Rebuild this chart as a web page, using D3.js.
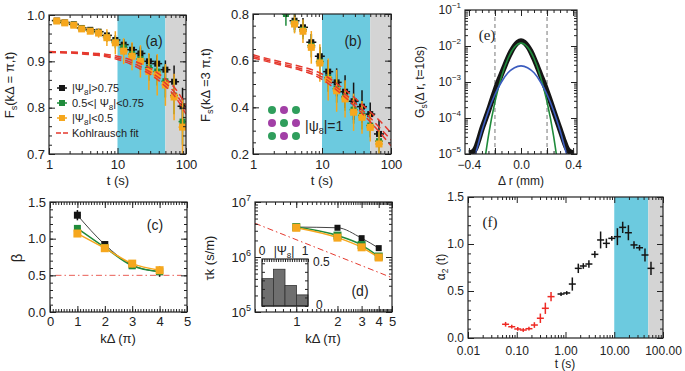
<!DOCTYPE html>
<html>
<head>
<meta charset="utf-8">
<script src="https://cdn.jsdelivr.net/npm/d3@7"></script>
<style>
body { margin: 0; background: #fff; }
text { font-family: "Liberation Sans", Arial, sans-serif; fill: #222; }
</style>
</head>
<body>
<svg id="fig" width="685" height="371"></svg>
<script>
// (a) Fs(k=pi, t) for three |psi6| groups
const tA = [1.3, 1.7, 2.3, 3.0, 4.0, 5.3, 7.0, 9.3, 12.3, 16.3, 21.6, 28.7, 38, 50, 67, 89];
const fsA_hi  = [0.988, 0.984, 0.980, 0.972, 0.968, 0.964, 0.956, 0.946, 0.936, 0.925, 0.917, 0.900, 0.895, 0.882, 0.856, 0.803];
const fsA_mid = [0.987, 0.983, 0.979, 0.971, 0.966, 0.962, 0.952, 0.942, 0.930, 0.916, 0.905, 0.886, 0.878, 0.857, 0.826, 0.770];
const fsA_lo  = [0.987, 0.983, 0.978, 0.970, 0.965, 0.961, 0.951, 0.940, 0.922, 0.911, 0.900, 0.878, 0.871, 0.849, 0.823, 0.758];
const errA_hi  = [0.003, 0.003, 0.003, 0.004, 0.004, 0.005, 0.008, 0.010, 0.012, 0.014, 0.015, 0.016, 0.018, 0.020, 0.035, 0.040];
const errA_mid = [0.003, 0.003, 0.003, 0.004, 0.005, 0.006, 0.010, 0.014, 0.016, 0.020, 0.024, 0.028, 0.030, 0.035, 0.040, 0.050];
const errA_lo  = [0.004, 0.004, 0.004, 0.005, 0.006, 0.010, 0.018, 0.025, 0.028, 0.030, 0.035, 0.040, 0.045, 0.045, 0.050, 0.060];
const tFit = [1, 2, 3, 5, 7, 10, 15, 20, 30, 50, 70, 100];
const fitA1 = [0.921, 0.920, 0.919, 0.917, 0.915, 0.911, 0.904, 0.897, 0.885, 0.862, 0.841, 0.805];
const fitA2 = [0.920, 0.919, 0.918, 0.915, 0.912, 0.907, 0.899, 0.891, 0.877, 0.853, 0.831, 0.795];
const fitA3 = [0.919, 0.918, 0.916, 0.913, 0.910, 0.904, 0.895, 0.886, 0.872, 0.846, 0.823, 0.786];

// (b) Fs(k=3pi, t)
const tB = [3.0, 4.0, 5.3, 7.0, 9.3, 12.3, 16.3, 21.6, 28.7, 38, 50, 67];
const fsB_hi  = [null, 0.771, 0.743, 0.679, 0.619, 0.553, 0.507, 0.467, 0.426, 0.403, 0.371, 0.286];
const fsB_mid = [0.800, 0.762, 0.732, 0.664, 0.596, 0.527, 0.480, 0.445, 0.390, 0.365, 0.322, 0.255];
const fsB_lo  = [null, 0.757, 0.726, 0.657, 0.590, 0.519, 0.471, 0.436, 0.379, 0.357, 0.314, 0.243];
const errB_hi  = [0, 0.04, 0.04, 0.035, 0.04, 0.05, 0.06, 0.07, 0.08, 0.07, 0.05, 0.06];
const errB_mid = [0.05, 0.04, 0.04, 0.05, 0.06, 0.06, 0.06, 0.06, 0.06, 0.06, 0.05, 0.05];
const errB_lo  = [0, 0.04, 0.05, 0.07, 0.08, 0.09, 0.09, 0.08, 0.08, 0.07, 0.06, 0.06];
const fitB1 = [0.625, 0.602, 0.590, 0.574, 0.562, 0.543, 0.510, 0.482, 0.440, 0.380, 0.340, 0.290];
const fitB2 = [0.618, 0.595, 0.582, 0.565, 0.552, 0.530, 0.495, 0.465, 0.420, 0.355, 0.310, 0.260];
const fitB3 = [0.612, 0.589, 0.576, 0.558, 0.544, 0.520, 0.483, 0.452, 0.405, 0.338, 0.290, 0.235];
const latticeColor = ["g", "p", "g", "p", "g", "p", "g", "p", "g"];

// (e) van Hove function
const drE = [-0.40, -0.375, -0.35, -0.325, -0.30, -0.275, -0.25, -0.225, -0.20, -0.175, -0.15, -0.125, -0.10, -0.075, -0.05, -0.025, 0,
             0.025, 0.05, 0.075, 0.10, 0.125, 0.15, 0.175, 0.20, 0.225, 0.25, 0.275, 0.30, 0.325, 0.35, 0.375, 0.40];
const gsE = [1.07e-5, 1.12e-5, 1.4e-5, 2.5e-5, 5.0e-5, 8.9e-5, 1.6e-4, 3.0e-4, 5.6e-4, 1.0e-3, 1.66e-3, 2.8e-3, 4.6e-3, 7.1e-3, 1.0e-2, 1.26e-2, 1.38e-2,
             1.26e-2, 1.0e-2, 7.1e-3, 4.5e-3, 2.7e-3, 1.6e-3, 9.5e-4, 5.4e-4, 3.0e-4, 1.6e-4, 8.7e-5, 4.8e-5, 2.6e-5, 1.5e-5, 1.15e-5, 1.07e-5];
const drGauss = [-0.28, -0.25, -0.20, -0.15, -0.10, -0.05, 0, 0.05, 0.10, 0.15, 0.20, 0.25, 0.28];
const gsGauss = [6e-6, 3.2e-5, 2.8e-4, 1.4e-3, 4.5e-3, 9.3e-3, 1.2e-2, 9.3e-3, 4.5e-3, 1.4e-3, 2.8e-4, 3.2e-5, 6e-6];
const drWide = [-0.37, -0.35, -0.30, -0.25, -0.20, -0.15, -0.10, -0.05, 0, 0.05, 0.10, 0.15, 0.20, 0.25, 0.30, 0.35, 0.37];
const gsWide = [6e-6, 1.0e-5, 4.5e-5, 1.6e-4, 4.5e-4, 1.0e-3, 1.8e-3, 2.5e-3, 2.8e-3, 2.5e-3, 1.8e-3, 1.0e-3, 4.5e-4, 1.6e-4, 4.5e-5, 1.0e-5, 6e-6];
const drCut = [-0.2, 0.2];

// (c) stretching exponent beta
const kC = [1, 2, 3, 4];
const betaHi  = [1.32, 0.92, 0.64, 0.55];
const betaMid = [1.14, 0.88, 0.63, 0.55];
const betaLo  = [1.07, 0.87, 0.66, 0.57];
const errBetaHi  = [0.07, 0.04, 0.04, 0.07];
const errBetaMid = [0.03, 0.03, 0.03, 0.04];
const errBetaLo  = [0.04, 0.04, 0.05, 0.05];
const betaRef = 0.5;

// (d) tau*k
const tauHi  = [3.5e6, 3.4e6, 2.2e6, 1.45e6];
const tauMid = [3.5e6, 2.45e6, 1.65e6, 1.02e6];
const tauLo  = [3.4e6, 2.25e6, 1.5e6, 0.98e6];
const kGuide = [0.5, 5];
const tauGuide = [4.1e6, 4.2e5];
const psiBins = [0, 0.25, 0.5, 0.75];
const psiFrac = [0.32, 0.43, 0.24, 0.13];

// (f) non-Gaussian parameter
const tF_red = [0.059, 0.079, 0.105, 0.136, 0.178, 0.23, 0.305, 0.386, 0.505];
const a2_red = [0.146, 0.12, 0.096, 0.085, 0.099, 0.138, 0.21, 0.316, 0.44];
const err_red = [0.025, 0.02, 0.02, 0.02, 0.02, 0.03, 0.05, 0.06, 0.05];
const tF_blk = [0.81, 1.06, 1.38, 1.83, 2.32, 3.02, 4.0, 5.25, 6.9, 8.9, 11.6, 14.9, 19.5, 25.4, 33, 42.7, 56.7];
const a2_blk = [0.468, 0.479, 0.574, 0.741, 0.766, 0.787, 0.89, 1.043, 1.007, 1.06, 1.078, 1.177, 1.12, 0.99, 0.96, 0.883, 0.741];
const err_blk = [0.02, 0.02, 0.07, 0.05, 0.03, 0.04, 0.035, 0.09, 0.05, 0.025, 0.09, 0.06, 0.08, 0.04, 0.03, 0.07, 0.07];

const tCage = [10, 50]; // shaded windows

const BLACK = "#151515", GREEN = "#1f8b3b", ORANGE = "#f6a71d", RED = "#e5392e",
      CYAN = "#6ccadf", GREY = "#d4d4d4", BLUE = "#3b5cbf", PURPLE = "#a23fa6";

const svg = d3.select("#fig");

function panel(x0, y0, w, h, id) {
    const g = svg.append("g").attr("transform", "translate(" + x0 + "," + y0 + ")");
    g.append("clipPath").attr("id", id).append("rect").attr("width", w).attr("height", h);
    return g;
}

function frame(g, x, y, w, h, o) {
    const add = (axis, tr) => g.append("g").attr("transform", tr)
        .call(axis).call(s => s.select(".domain").remove())
        .attr("font-family", null).attr("font-size", o.fs || 13)
        .style("color", "#222");
    add(d3.axisBottom(x).tickValues(o.xMajor).tickSize(-6).tickPadding(o.xPad || 6).tickFormat(o.xFmt || ""), "translate(0," + h + ")");
    add(d3.axisBottom(x).tickValues(o.xMinor).tickSize(-3).tickFormat(""), "translate(0," + h + ")");
    add(d3.axisTop(x).tickValues(o.xMajor).tickSize(-6).tickFormat(""), "translate(0,0)");
    add(d3.axisTop(x).tickValues(o.xMinor).tickSize(-3).tickFormat(""), "translate(0,0)");
    add(d3.axisLeft(y).tickValues(o.yMajor).tickSize(-6).tickPadding(o.yPad || 4).tickFormat(o.yFmt || ""), "translate(0,0)");
    add(d3.axisLeft(y).tickValues(o.yMinor).tickSize(-3).tickFormat(""), "translate(0,0)");
    add(d3.axisRight(y).tickValues(o.yMajor).tickSize(-6).tickFormat(""), "translate(" + w + ",0)");
    add(d3.axisRight(y).tickValues(o.yMinor).tickSize(-3).tickFormat(""), "translate(" + w + ",0)");
    g.append("rect").attr("width", w).attr("height", h)
        .attr("fill", "none").attr("stroke", "#222").attr("stroke-width", 1.2);
}

function logMinor(lo, hi) {
    const out = [];
    for (let e = lo; e < hi; e++) for (let k = 2; k <= 9; k++) out.push(k * Math.pow(10, e));
    return out;
}

function points(g, id, x, y, xs, ys, es, color, size, arm) {
    const pts = xs.map((t, i) => ({t: t, v: ys[i], e: es[i]})).filter(d => d.v != null);
    const grp = g.append("g").attr("clip-path", "url(#" + id + ")");
    grp.selectAll(".ev").data(pts).join("line").attr("class", "ev")
        .attr("x1", d => x(d.t)).attr("x2", d => x(d.t))
        .attr("y1", d => y(d.v - d.e)).attr("y2", d => y(d.v + d.e))
        .attr("stroke", color).attr("stroke-width", 1.5);
    grp.selectAll(".eh").data(pts).join("line").attr("class", "eh")
        .attr("x1", d => x(d.t) - arm).attr("x2", d => x(d.t) + arm)
        .attr("y1", d => y(d.v)).attr("y2", d => y(d.v))
        .attr("stroke", color).attr("stroke-width", 1.5);
    if (size > 0) {
        grp.selectAll(".pt").data(pts).join("rect").attr("class", "pt")
            .attr("x", d => x(d.t) - size / 2).attr("y", d => y(d.v) - size / 2)
            .attr("width", size).attr("height", size).attr("fill", color);
    }
}

function curve(g, id, x, y, xs, ys, color, width, dash) {
    const line = d3.line().x(d => x(d[0])).y(d => y(d[1])).curve(d3.curveMonotoneX);
    g.append("path").attr("clip-path", "url(#" + id + ")")
        .attr("d", line(xs.map((t, i) => [t, ys[i]])))
        .attr("fill", "none").attr("stroke", color).attr("stroke-width", width)
        .attr("stroke-dasharray", dash || null);
}

function bands(g, x, h, w) {
    g.append("rect").attr("x", x(tCage[0])).attr("width", x(tCage[1]) - x(tCage[0]))
        .attr("height", h).attr("fill", CYAN);
    g.append("rect").attr("x", x(tCage[1])).attr("width", w - x(tCage[1]))
        .attr("height", h).attr("fill", GREY);
}

// rotated y label with a subscript part
function yLabel(x, y, parts, fs, family) {
    const t = svg.append("text").attr("transform", "translate(" + x + "," + y + ") rotate(-90)")
        .attr("text-anchor", "middle").attr("font-size", fs);
    if (family) t.style("font-family", family);
    parts.forEach(p => {
        const s = t.append("tspan").text(p[0]);
        if (p[1] === "sub") s.attr("font-size", fs * 0.7).attr("dy", 3);
        if (p[1] === "back") s.attr("dy", -3);
    });
}

function label(x, y, txt, fs, anchor, family) {
    const t = svg.append("text").attr("x", x).attr("y", y).attr("font-size", fs)
        .attr("text-anchor", anchor || "middle").text(txt);
    if (family) t.style("font-family", family);
    return t;
}

// ---------------- (a) ----------------
{
    const w = 137, h = 139;
    const g = panel(49, 15, w, h, "clipA");
    const x = d3.scaleLog().domain([1, 100]).range([0, w]);
    const y = d3.scaleLinear().domain([0.7, 1.0]).range([h, 0]);
    bands(g, x, h, w);
    points(g, "clipA", x, y, tA, fsA_hi, errA_hi, BLACK, 6, 5);
    points(g, "clipA", x, y, tA, fsA_mid, errA_mid, GREEN, 6, 4);
    points(g, "clipA", x, y, tA, fsA_lo, errA_lo, ORANGE, 7, 4);
    [fitA1, fitA2, fitA3].forEach(f => curve(g, "clipA", x, y, tFit, f, RED, 1.5, "7,4"));
    frame(g, x, y, w, h, {
        xMajor: [1, 10, 100], xMinor: logMinor(0, 2), xFmt: d3.format("d"),
        yMajor: [0.7, 0.8, 0.9, 1.0], yMinor: d3.range(35, 51).map(i => i / 50), yFmt: d3.format(".1f")
    });
    label(154, 46, "(a)", 14);
    // legend
    const leg = [[BLACK, ["|Ψ", "8", "|>0.75"]], [GREEN, ["0.5<| Ψ", "8", "|<0.75"]], [ORANGE, ["|Ψ", "8", "|<0.5"]]];
    leg.forEach((l, i) => {
        const cy = 88 + i * 15;
        svg.append("line").attr("x1", 57).attr("x2", 67).attr("y1", cy).attr("y2", cy).attr("stroke", l[0]).attr("stroke-width", 1.5);
        svg.append("line").attr("x1", 62).attr("x2", 62).attr("y1", cy - 3).attr("y2", cy + 3).attr("stroke", l[0]).attr("stroke-width", 1.5);
        svg.append("rect").attr("x", 59).attr("y", cy - 3).attr("width", 6).attr("height", 6).attr("fill", l[0]);
        const t = label(72, cy + 4, "", 11, "start");
        t.append("tspan").text(l[1][0]);
        t.append("tspan").text(l[1][1]).attr("font-size", 8).attr("dy", 3);
        t.append("tspan").text(l[1][2]).attr("dy", -3);
    });
    svg.append("line").attr("x1", 56).attr("x2", 68).attr("y1", 133).attr("y2", 133)
        .attr("stroke", RED).attr("stroke-width", 1.5).attr("stroke-dasharray", "5,2");
    label(72, 137, "Kohlrausch fit", 11, "start");
    yLabel(14, 85, [["F"], ["s", "sub"], ["(kΔ = π,t)", "back"]], 13);
    label(118, 185, "t  (s)", 13);
}

// ---------------- (b) ----------------
{
    const w = 138, h = 140;
    const g = panel(253, 14, w, h, "clipB");
    const x = d3.scaleLog().domain([1, 100]).range([0, w]);
    const y = d3.scaleLinear().domain([0.2, 0.8]).range([h, 0]);
    bands(g, x, h, w);
    points(g, "clipB", x, y, tB, fsB_hi, errB_hi, BLACK, 6, 5);
    points(g, "clipB", x, y, tB, fsB_mid, errB_mid, GREEN, 6, 4);
    points(g, "clipB", x, y, tB, fsB_lo, errB_lo, ORANGE, 7, 4);
    [fitB1, fitB2, fitB3].forEach(f => curve(g, "clipB", x, y, tFit, f, RED, 1.5, "7,4"));
    // lattice sketch
    const lx = d3.scaleLinear().domain([0, 2]).range([19, 43]);
    const ly = d3.scaleLinear().domain([0, 2]).range([96, 122]);
    g.selectAll(".lat").data(latticeColor).join("circle").attr("class", "lat")
        .attr("cx", (d, i) => lx(i % 3)).attr("cy", (d, i) => ly(Math.floor(i / 3)))
        .attr("r", 4).attr("fill", d => d === "g" ? "#2f9e5c" : PURPLE);
    const t = label(305, 131, "", 14, "start");
    t.append("tspan").text("|ψ");
    t.append("tspan").text("8").attr("font-size", 9).attr("dy", 3);
    t.append("tspan").text("|=1").attr("dy", -3);
    frame(g, x, y, w, h, {
        xMajor: [1, 10, 100], xMinor: logMinor(0, 2), xFmt: d3.format("d"),
        yMajor: [0.2, 0.4, 0.6, 0.8], yMinor: d3.range(4, 17).map(i => i / 20), yFmt: d3.format(".1f")
    });
    label(353, 46, "(b)", 14);
    yLabel(210, 85, [["F"], ["s", "sub"], ["(kΔ =3 π,t)", "back"]], 13);
    label(322, 185, "t  (s)", 13);
}

// ---------------- (e) ----------------
{
    const w = 112, h = 144;
    const g = panel(465, 10, w, h, "clipE");
    const x = d3.scaleLinear().domain([-0.43, 0.43]).range([0, w]);
    const y = d3.scaleLog().domain([1e-5, 1e-1]).range([h, 0]);
    g.selectAll(".cut").data(drCut).join("line").attr("class", "cut")
        .attr("x1", d => x(d)).attr("x2", d => x(d)).attr("y1", 0).attr("y2", h)
        .attr("stroke", "#777").attr("stroke-width", 1).attr("stroke-dasharray", "4,3");
    curve(g, "clipE", x, y, drE, gsE, BLACK, 5.5);
    curve(g, "clipE", x, y, drGauss, gsGauss, GREEN, 1.6);
    curve(g, "clipE", x, y, drWide, gsWide, BLUE, 1.6);
    frame(g, x, y, w, h, {
        fs: 12, xMajor: [-0.4, -0.2, 0, 0.2, 0.4], xMinor: d3.range(-8, 9).map(i => i / 20),
        xFmt: d => Math.abs(d) === 0.2 ? "" : d3.format(".1f")(d).replace("-", "−"),
        yMajor: [1e-5, 1e-4, 1e-3, 1e-2, 1e-1], yMinor: logMinor(-5, -1)
    });
    [1e-1, 1e-2, 1e-3, 1e-4, 1e-5].forEach(v => {
        const t = label(461, 10 + y(v) + 4, "", 12, "end");
        t.append("tspan").text("10");
        t.append("tspan").text("−" + Math.round(-Math.log10(v))).attr("font-size", 8).attr("dy", -6);
    });
    label(487, 40, "(e)", 15, "middle", "'Liberation Serif', serif");
    yLabel(424, 82, [["G"], ["s", "sub"], ["(Δ r, t=10s)", "back"]], 12);
    label(521, 185, "Δ r (mm)", 12);
}

// ---------------- (c) ----------------
{
    const w = 137, h = 110;
    const g = panel(50, 202, w, h, "clipC");
    const x = d3.scaleLinear().domain([0, 5]).range([0, w]);
    const y = d3.scaleLinear().domain([0, 1.5]).range([h, 0]);
    g.append("line").attr("x1", x(0.2)).attr("x2", x(4.8)).attr("y1", y(betaRef)).attr("y2", y(betaRef))
        .attr("stroke", RED).attr("stroke-width", 1).attr("stroke-dasharray", "6,3,1.5,3").attr("opacity", 0.8);
    curve(g, "clipC", x, y, kC, betaHi, "#444", 1);
    curve(g, "clipC", x, y, kC, betaMid, GREEN, 1.5);
    curve(g, "clipC", x, y, kC, betaLo, ORANGE, 1.5);
    points(g, "clipC", x, y, kC, betaHi, errBetaHi, BLACK, 7, 3);
    points(g, "clipC", x, y, kC, betaMid, errBetaMid, GREEN, 7, 3);
    points(g, "clipC", x, y, kC, betaLo, errBetaLo, ORANGE, 8, 3);
    frame(g, x, y, w, h, {
        xMajor: [0, 1, 2, 3, 4, 5], xMinor: d3.range(0, 51).map(i => i / 10), xFmt: d3.format("d"), xPad: 5,
        yMajor: [0, 0.5, 1.0, 1.5], yMinor: d3.range(0, 16).map(i => i / 10), yFmt: d3.format(".1f")
    });
    label(155, 230, "(c)", 14);
    yLabel(22, 258, [["β"]], 15);
    label(118, 343, "kΔ  (π)", 13);
}

// ---------------- (d) ----------------
{
    const w = 137, h = 110;
    const g = panel(255, 202, w, h, "clipD");
    const x = d3.scaleLog().domain([0.5, 5]).range([0, w]);
    const y = d3.scaleLog().domain([1e5, 1e7]).range([h, 0]);
    g.append("line").attr("x1", x(kGuide[0])).attr("x2", x(kGuide[1]))
        .attr("y1", y(tauGuide[0])).attr("y2", y(tauGuide[1]))
        .attr("stroke", RED).attr("stroke-width", 1).attr("stroke-dasharray", "6,3,1.5,3");
    curve(g, "clipD", x, y, kC, tauHi, "#444", 1);
    curve(g, "clipD", x, y, kC, tauMid, GREEN, 1.5);
    curve(g, "clipD", x, y, kC, tauLo, ORANGE, 1.5);
    const none = [0, 0, 0, 0];
    points(g, "clipD", x, y, kC, tauHi, none, BLACK, 6, 0);
    points(g, "clipD", x, y, kC, tauMid, none, GREEN, 8, 0);
    points(g, "clipD", x, y, kC, tauLo, none, ORANGE, 8, 0);
    frame(g, x, y, w, h, {
        xMajor: [1, 2, 3, 4, 5], xMinor: d3.range(5, 50).map(i => i / 10), xFmt: d3.format("d"), xPad: 5,
        yMajor: [1e5, 1e6, 1e7], yMinor: logMinor(5, 7)
    });
    [1e7, 1e6, 1e5].forEach(v => {
        const t = label(251, 202 + y(v) + 5, "", 13, "end");
        t.append("tspan").text("10");
        t.append("tspan").text(Math.round(Math.log10(v))).attr("font-size", 9).attr("dy", -6);
    });
    // inset histogram of |psi6|
    const iw = 46, ih = 47;
    const ig = svg.append("g").attr("transform", "translate(262,259)");
    const ix = d3.scaleLinear().domain([0, 1]).range([0, iw]);
    const iy = d3.scaleLinear().domain([0, 0.55]).range([ih, 0]);
    ig.append("rect").attr("x", -1).attr("y", -1).attr("width", iw + 2).attr("height", ih + 2).attr("fill", "#fff");
    ig.selectAll(".bar").data(psiBins).join("rect").attr("class", "bar")
        .attr("x", d => ix(d)).attr("width", ix(0.25) - ix(0))
        .attr("y", (d, i) => iy(psiFrac[i])).attr("height", (d, i) => ih - iy(psiFrac[i]))
        .attr("fill", "#6f6f6f").attr("stroke", "#333").attr("stroke-width", 0.8);
    ig.append("g").call(d3.axisTop(ix).tickValues(d3.range(0, 21).map(i => i / 20)).tickSize(-3).tickFormat(""))
        .call(s => s.select(".domain").remove()).style("color", "#222");
    ig.append("g").call(d3.axisLeft(iy).tickValues(d3.range(0, 6).map(i => i / 10)).tickSize(-3).tickFormat(""))
        .call(s => s.select(".domain").remove()).style("color", "#222");
    ig.append("g").attr("transform", "translate(" + iw + ",0)")
        .call(d3.axisRight(iy).tickValues(d3.range(0, 6).map(i => i / 10)).tickSize(-3).tickFormat(""))
        .call(s => s.select(".domain").remove()).style("color", "#222");
    ig.append("rect").attr("width", iw).attr("height", ih).attr("fill", "none").attr("stroke", "#222").attr("stroke-width", 1.2);
    label(262, 255, "0", 12);
    const ps = label(284, 255, "", 12);
    ps.append("tspan").text("|Ψ");
    ps.append("tspan").text("8").attr("font-size", 8).attr("dy", 3);
    ps.append("tspan").text("|").attr("dy", -3);
    label(305, 255, "1", 12);
    label(313, 266, "0.5", 12, "start");
    label(316, 309, "0", 12, "start");
    label(360, 296, "(d)", 14);
    yLabel(214, 258, [["τk  (s/m)"]], 13);
    label(323, 343, "kΔ  (π)", 13);
}

// ---------------- (f) ----------------
{
    const w = 195, h = 141;
    const g = panel(468, 197, w, h, "clipF");
    const x = d3.scaleLog().domain([0.01, 100]).range([0, w]);
    const y = d3.scaleLinear().domain([0, 1.5]).range([h, 0]);
    bands(g, x, h, w);
    points(g, "clipF", x, y, tF_red, a2_red, err_red, "#ee2a24", 0, 3.5);
    points(g, "clipF", x, y, tF_blk, a2_blk, err_blk, BLACK, 0, 3.5);
    frame(g, x, y, w, h, {
        fs: 12, xMajor: [0.01, 0.1, 1, 10, 100], xMinor: logMinor(-2, 2), xFmt: d3.format(".2f"), xPad: 8,
        yMajor: [0, 0.5, 1.0, 1.5], yMinor: d3.range(0, 16).map(i => i / 10), yFmt: d3.format(".1f")
    });
    label(490, 227, "(f)", 15, "middle", "'Liberation Serif', serif");
    yLabel(445, 267, [["α"], ["2", "sub"], [" (t)", "back"]], 12);
    label(565, 368, "t  (s)", 12);
}
</script>
</body>
</html>
